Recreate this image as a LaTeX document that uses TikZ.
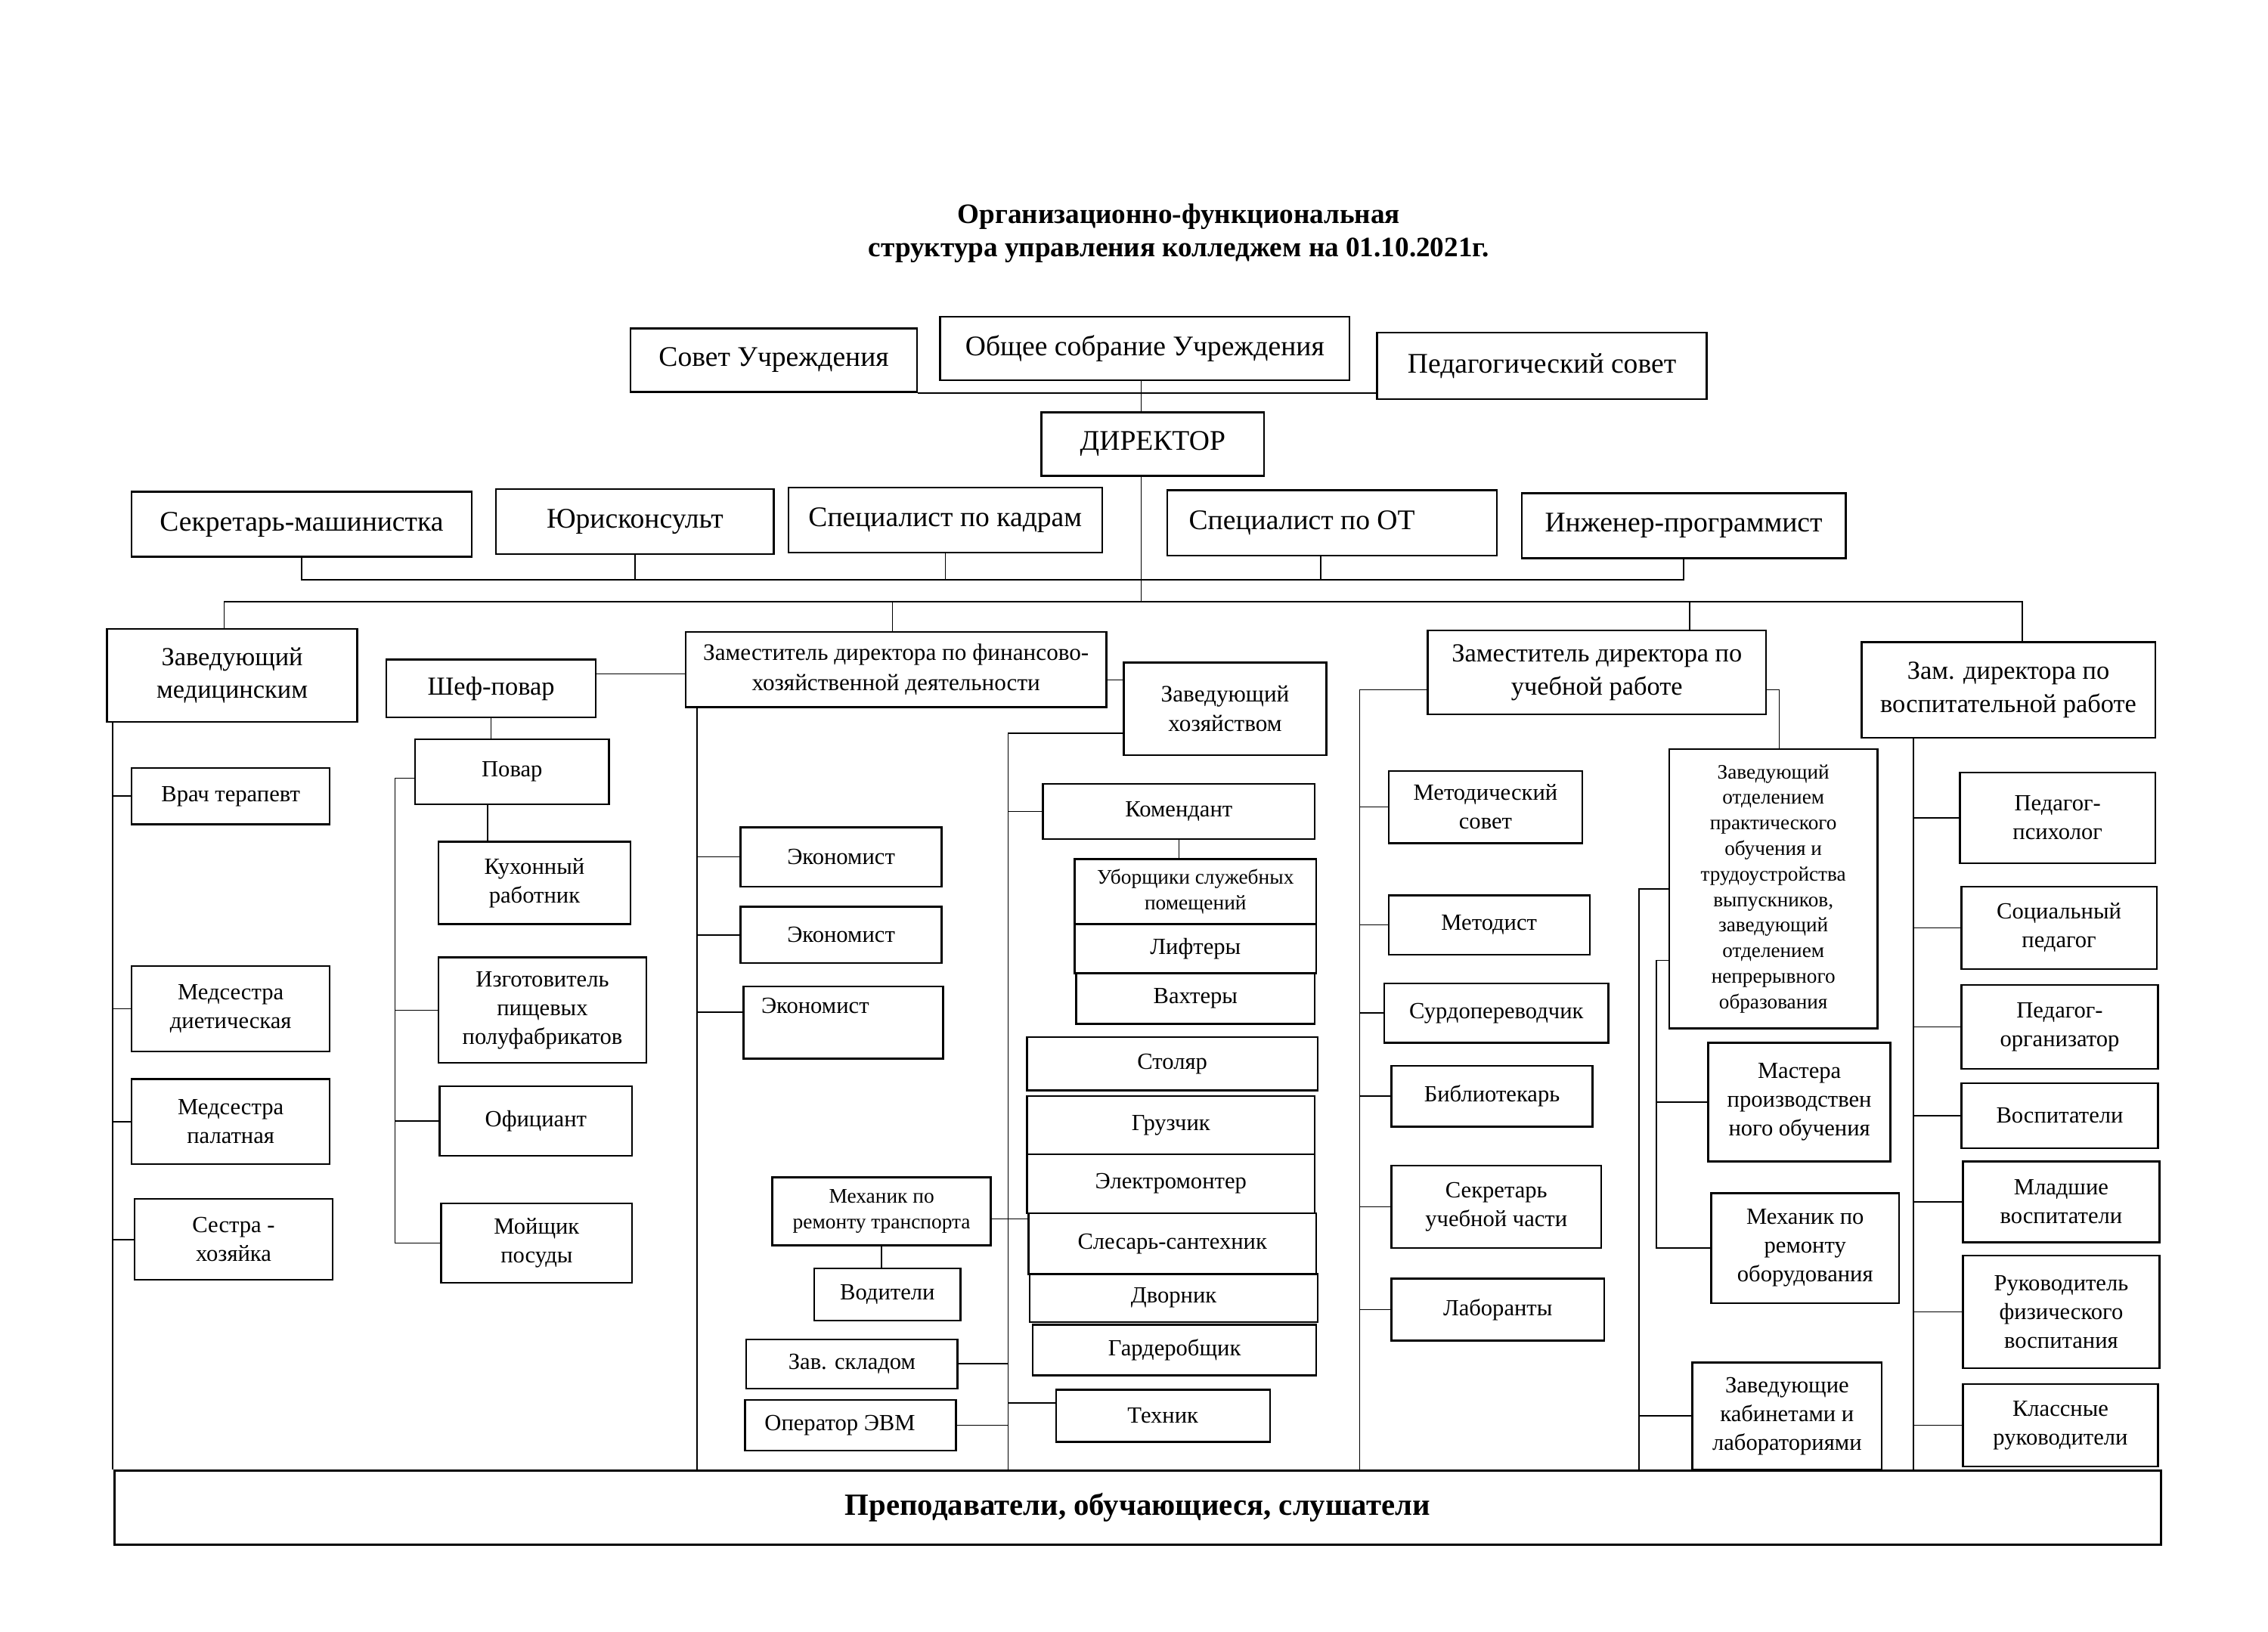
\documentclass[tikz,border=0pt]{standalone}
\usepackage{fontspec}
\setmainfont{Liberation Serif}
\newcommand\fs[2]{\fontsize{#1}{#2}\selectfont}
\newcommand\obox[7][]{\node[box,minimum width={(#5-#3)*0.47832pt},minimum height={(#6-#4)*0.47832pt},#1] (#2) at ({(#3+#5)/2},{(#4+#6)/2}) {#7};}
\tikzset{
  box/.style={draw, line width=0.6pt, inner sep=1pt, align=center, font=\fs{7.65}{9.5}},
  ln/.style={line width=0.4pt},
  topf/.style={font=\fs{9.4}{11}},
  zamf/.style={font=\fs{8.6}{10.9}},
  smf/.style={font=\fs{7.8}{9.9}},
  tinyf/.style={font=\fs{6.85}{8.6}},
}
\begin{document}
\begin{tikzpicture}[x=0.47832pt,y=-0.47832pt]
\fill[white] (0,0) rectangle (1568,1128);
\useasboundingbox (0,0) rectangle (1568,1128);

% title
\node[font=\bfseries\fs{9.3}{11}, align=center] (title) at (815,161.5) {Организационно-функциональная\\структура управления колледжем на 01.10.2021г.};

% top level
\obox[topf]{sov}{436}{227}{634}{271}{Совет Учреждения}
\obox[topf]{obs}{650}{219}{933}{263}{Общее собрание Учреждения}
\obox[topf]{ped}{952}{230}{1180}{276}{Педагогический совет}
\obox[topf]{dir}{720}{285}{874}{329}{ДИРЕКТОР}
\obox[topf]{sec}{91}{340}{326}{385}{Секретарь-машинистка}
\obox[topf]{yur}{343}{338}{535}{383}{Юрисконсульт}
\obox[topf]{kad}{545}{337}{762}{382}{Специалист по кадрам}
\obox[topf]{ot}{807}{339}{1035}{384}{Специалист по ОТ\hspace*{20pt}}
\obox[topf]{ing}{1052}{341}{1276}{386}{Инженер-программист}

% deputies
\obox[zamf]{zmed}{74}{435}{247}{499}{Заведующий\\медицинским}
\obox[zamf]{chef}{267}{456}{412}{496}{Шеф-повар}
\obox[smf]{zfin}{474}{437}{765}{489}{Заместитель директора по финансово-\\хозяйственной деятельности}
\obox[smf]{zhoz}{777}{458}{917}{522}{Заведующий\\хозяйством}
\obox[zamf]{zuch}{987}{436}{1221}{494}{Заместитель директора по\\учебной работе}
\obox[zamf]{zvos}{1287}{444}{1490}{510}{Зам. директора по\\воспитательной работе}

% medical
\obox{vrach}{91}{531}{228}{570}{Врач терапевт}
\obox{mdiet}{91}{668}{228}{727}{Медсестра\\диетическая}
\obox{mpal}{91}{746}{228}{805}{Медсестра\\палатная}
\obox{sest}{93}{829}{230}{885}{Сестра -\\хозяйка}

% kitchen
\obox{pov}{287}{511}{421}{556}{Повар}
\obox{kux}{303}{582}{436}{639}{Кухонный\\работник}
\obox{izg}{303}{662}{447}{735}{Изготовитель\\пищевых\\полуфабрикатов}
\obox{ofi}{304}{751}{437}{799}{Официант}
\obox{moi}{305}{832}{437}{887}{Мойщик\\посуды}

% finance
\obox{eca}{512}{572}{651}{613}{Экономист}
\obox{ecb}{512}{627}{651}{666}{Экономист}
\obox[label={[anchor=north west, inner sep=0pt, xshift=6pt, yshift=-4pt, font=\fs{7.65}{9.5}]north west:Экономист}]{ecc}{514}{682}{652}{732}{}
\obox[tinyf]{mech}{534}{814}{685}{861}{Механик по\\ремонту транспорта}
\obox{vod}{563}{877}{664}{913}{Водители}
\obox{sklad}{516}{926}{662}{960}{Зав. складом}
\obox{oper}{515}{968}{661}{1003}{Оператор ЭВМ\hspace*{7pt}}

% household
\obox{kom}{721}{542}{909}{580}{Комендант}
\obox[tinyf]{ub}{743}{594}{910}{639}{Уборщики служебных\\помещений}
\obox{lif}{743}{639}{910}{673}{Лифтеры}
\obox{vax}{744}{673}{909}{708}{Вахтеры}
\obox{stol}{710}{717}{911}{754}{Столяр}
\obox{gruz}{710}{758}{909}{798}{Грузчик}
\obox{elek}{710}{798}{909}{839}{Электромонтер}
\obox{sles}{711}{839}{910}{881}{Слесарь-сантехник}
\obox{dvor}{712}{881}{911}{914}{Дворник}
\obox{gard}{714}{916}{910}{951}{Гардеробщик}
\obox{tex}{730}{961}{878}{997}{Техник}

% study
\obox{metsov}{960}{533}{1094}{583}{Методический\\совет}
\obox{metod}{960}{619}{1099}{660}{Методист}
\obox{surdo}{957}{680}{1112}{721}{Сурдопереводчик}
\obox{bibl}{962}{737}{1101}{779}{Библиотекарь}
\obox{sekr}{962}{806}{1107}{863}{Секретарь\\учебной части}
\obox{lab}{962}{884}{1109}{927}{Лаборанты}
\obox[font=\fs{6.8}{8.45}]{zotd}{1154}{518}{1298}{711}{Заведующий\\отделением\\практического\\обучения и\\трудоустройства\\выпускников,\\заведующий\\отделением\\непрерывного\\образования}
\obox{mast}{1181}{721}{1307}{803}{Мастера\\производствен\\ного обучения}
\obox{mo}{1183}{825}{1313}{901}{Механик по\\ремонту\\оборудования}
\obox{zkab}{1170}{942}{1301}{1016}{Заведующие\\кабинетами и\\лабораториями}

% upbringing
\obox{pp}{1355}{534}{1490}{597}{Педагог-\\психолог}
\obox{socp}{1356}{613}{1491}{670}{Социальный\\педагог}
\obox{po}{1356}{681}{1492}{739}{Педагог-\\организатор}
\obox{vosp}{1356}{749}{1492}{794}{Воспитатели}
\obox{mvos}{1357}{803}{1493}{859}{Младшие\\воспитатели}
\obox{ruk}{1357}{868}{1493}{946}{Руководитель\\физического\\воспитания}
\obox{kl}{1357}{957}{1492}{1014}{Классные\\руководители}

% bottom
\obox[font=\bfseries\fs{10.2}{12}, line width=0.7pt]{bot}{79}{1017}{1494}{1068}{Преподаватели, обучающиеся, слушатели}

% ---- connectors ----
\coordinate (spn) at (789,0);
\coordinate (bA) at (0,401);
\coordinate (bB) at (0,416);
\draw[ln] (sov.south east) -- (sov.south east -| ped.west);
\draw[ln] (obs.south -| spn) -- (dir.north -| spn);
\draw[ln] (dir.south -| spn) -- (bB -| spn);
\draw[ln] (sec.south) -- (sec.south |- bA) -- (ing.south |- bA) -- (ing.south);
\draw[ln] (yur.south) -- (yur.south |- bA);
\draw[ln] (kad.south) -- (kad.south |- bA);
\coordinate (xot) at (913,0);
\draw[ln] (xot |- ot.south) -- (xot |- bA);

\coordinate (xm) at (155,0);
\coordinate (xf) at (617,0);
\coordinate (xu) at (1168,0);
\coordinate (xv) at (1398,0);
\draw[ln] (xm |- zmed.north) -- (xm |- bB) -- (xv |- bB) -- (xv |- zvos.north);
\draw[ln] (xf |- bB) -- (xf |- zfin.north);
\draw[ln] (xu |- bB) -- (xu |- zuch.north);

% medical column
\coordinate (vM) at (78,0);
\draw[ln] (vM |- zmed.south) -- (vM |- bot.north);
\foreach \b in {vrach,mdiet,mpal,sest} \draw[ln] (vM |- \b.west) -- (\b.west);

% kitchen
\draw[ln] ([yshift=4.8pt]chef.east) -- ([yshift=4.8pt]chef.east -| zfin.west);
\draw[ln] (chef.south) -- (chef.south |- pov.north);
\coordinate (vC) at (273,0);
\draw[ln] ([yshift=-2.2pt]pov.west) -| (vC |- moi.west) -- (moi.west);
\draw[ln] (vC |- izg.west) -- (izg.west);
\draw[ln] (vC |- ofi.west) -- (ofi.west);
\coordinate (xk) at (337,0);
\draw[ln] (xk |- pov.south) -- (xk |- kux.north);

% finance
\coordinate (vF) at (482,0);
\draw[ln] (vF |- zfin.south) -- (vF |- bot.north);
\draw[ln] (vF |- eca.west) -- (eca.west);
\draw[ln] (vF |- ecb.west) -- (ecb.west);
\draw[ln] ([yshift=3.4pt]ecc.west -| vF) -- ([yshift=3.4pt]ecc.west);
\draw[ln] ([yshift=-2.5pt]mech.east) -- ([yshift=-2.5pt]mech.east -| sles.west);
\draw[ln] (mech.south) -- (mech.south |- vod.north);
\coordinate (vH) at (697,0);
\draw[ln] (sklad.east) -- (sklad.east -| vH);
\draw[ln] (oper.east) -- (oper.east -| vH);

% household
\draw[ln] ([yshift=-3.4pt]zfin.east) -- ([yshift=-3.4pt]zfin.east -| zhoz.west);
\draw[ln] ([yshift=-8.1pt]zhoz.west) -| (vH |- bot.north);
\draw[ln] (vH |- kom.west) -- (kom.west);
\draw[ln] (kom.south) -- (kom.south |- ub.north);
\draw[ln] ([yshift=4.3pt]tex.west -| vH) -- ([yshift=4.3pt]tex.west);

% study
\coordinate (vU) at (940,0);
\draw[ln] ([yshift=-5.7pt]zuch.west) -| (vU |- bot.north);
\foreach \b in {metsov,metod,surdo,bibl,sekr,lab} \draw[ln] (vU |- \b.west) -- (\b.west);
\coordinate (xo) at (1230,0);
\draw[ln] ([yshift=-5.7pt]zuch.east) -| (xo |- zotd.north);
\coordinate (vO) at (1133,0);
\coordinate (vI) at (1145,0);
\draw[ln] (zotd.west) -| (vO |- bot.north);
\draw[ln] ([yshift=-23.7pt]zotd.west) -| (vI |- mo.west) -- (mo.west);
\draw[ln] (vI |- mast.west) -- (mast.west);
\draw[ln] (vO |- zkab.west) -- (zkab.west);

% upbringing
\coordinate (vV) at (1323,0);
\draw[ln] (vV |- zvos.south) -- (vV |- bot.north);
\foreach \b in {pp,socp,po,vosp,mvos,ruk,kl} \draw[ln] (vV |- \b.west) -- (\b.west);
\end{tikzpicture}
\end{document}
